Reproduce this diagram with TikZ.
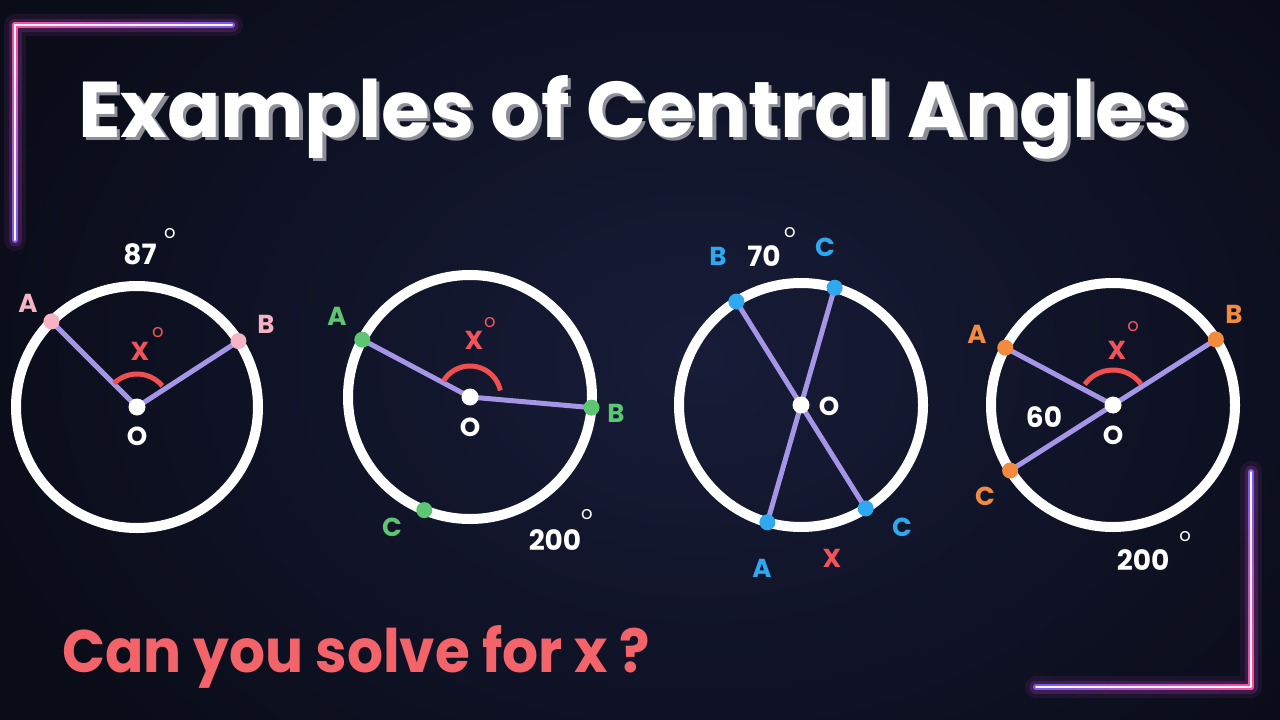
\documentclass[tikz,border=0pt]{standalone}
\usepackage{fontspec}
\setmainfont{Poppins}
\usetikzlibrary{calc}
\pgfdeclarelayer{bg}
\pgfdeclarelayer{segs}
\pgfsetlayers{bg,segs,main}
\definecolor{bgA}{HTML}{0A0C18}
\definecolor{bgB}{HTML}{171C38}
\definecolor{segcol}{HTML}{A595E6}
\definecolor{arcred}{HTML}{F04F52}
\definecolor{xred}{HTML}{F0545A}
\definecolor{pinkc}{HTML}{F5B3C4}
\definecolor{greenc}{HTML}{5CC672}
\definecolor{bluec}{HTML}{2FA8F0}
\definecolor{orangec}{HTML}{F28B3E}
\definecolor{coral}{HTML}{F2646A}
\definecolor{shadowg}{HTML}{8E8E98}
\definecolor{neonP}{HTML}{FF4F9C}
\definecolor{neonV}{HTML}{7B5CF0}
\definecolor{neonG}{HTML}{C047C8}
\newcommand\neonarm[2]{%
  \foreach \i in {1,...,24}{%
    \pgfmathsetmacro\ta{(\i-1)/24}%
    \pgfmathsetmacro\tb{\i/24}%
    \pgfmathsetmacro\pp{100-100*\i/24}%
    \colorlet{segc}{neonP!\pp!neonV}%
    \draw[segc, line width=6, line cap=round] ($(#1)!\ta!(#2)$) -- ($(#1)!\tb!(#2)$);
  }}
\newcommand\titletext{\resizebox{1110pt}{62pt}{\bfseries Examples of Central Angles}}
\tikzset{
  ring/.style={draw=white, line width=10},
  seg/.style={draw=segcol, line width=5, line cap=round},
  anglearc/.style={draw=arcred, line width=5},
  dot/.style={circle, fill=#1, minimum size=16, inner sep=0},
  cdot/.style={circle, fill=white, minimum size=17, inner sep=0},
  lbl/.style={text=#1, font=\fontsize{26}{26}\selectfont\bfseries, inner sep=0},
  num/.style={text=white, font=\fontsize{28}{28}\selectfont\bfseries, inner sep=0},
  deg/.style={text=#1, font=\fontsize{18}{18}\selectfont, inner sep=0},
  glowA/.style={line width=22, draw=neonG, opacity=0.10, line cap=round, line join=round},
  glowB/.style={line width=13, draw=neonG, opacity=0.20, line cap=round, line join=round},
  core/.style={line width=2, draw=white, opacity=0.95, line cap=round, line join=round}
}
\begin{document}
\begin{tikzpicture}[x=1pt,y=-1pt]
\useasboundingbox (0,0) rectangle (1280,720);
\begin{pgfonlayer}{bg}
\fill[bgA] (0,0) rectangle (1280,720);
\begin{scope}
\clip (0,0) rectangle (1280,720);
\shade[inner color=bgB, outer color=bgA] (700,360) ellipse[x radius=760, y radius=560];
\end{scope}
\end{pgfonlayer}

% neon corners
\coordinate (TLc) at (15,25);
\coordinate (TLh) at (232,25);
\coordinate (TLv) at (15,240);
\coordinate (BRc) at (1251,687);
\coordinate (BRv) at (1251,472);
\coordinate (BRh) at (1036,687);
\draw[glowA] (TLh) -- (TLc) -- (TLv);
\draw[glowB] (TLh) -- (TLc) -- (TLv);
\draw[glowA] (BRh) -- (BRc) -- (BRv);
\draw[glowB] (BRh) -- (BRc) -- (BRv);
\neonarm{TLc}{TLh}
\neonarm{TLc}{TLv}
\neonarm{BRc}{BRh}
\neonarm{BRc}{BRv}
\draw[core] (TLh) -- (TLc) -- (TLv);
\draw[core] (BRh) -- (BRc) -- (BRv);

% title with drop shadow (one node)
\node[anchor=base west, inner sep=0] (title) at (78,137)
  {\rlap{\hspace{3.5pt}\raisebox{-3.5pt}{\color{shadowg}\titletext}}\color{white}\titletext};

% bottom question
\node[anchor=base west, inner sep=0, text=coral] (question) at (62,672) {\resizebox{588pt}{47pt}{\bfseries Can you solve for x ?}};

% ---------- circle 1 ----------
\coordinate (O1) at (137,407);
\begin{pgfonlayer}{bg}\draw[ring] (O1) circle[radius=121];\end{pgfonlayer}
\node[dot=pinkc] (A1) at ($(O1)+(-135:121)$) {};
\node[dot=pinkc] (B1) at ($(O1)+(-33:121)$) {};
\node[cdot] (C1) at (O1) {};
\begin{pgfonlayer}{segs}
\draw[seg] (A1.center) -- (C1.center) -- (B1.center);
\draw[anglearc] ($(O1)+(-134:33)$) arc[start angle=-134, end angle=-40, radius=33];
\end{pgfonlayer}
\node[lbl=pinkc] (lA1) at (28,303) {A};
\node[lbl=pinkc] (lB1) at (266,324) {B};
\node[lbl=xred] (lx1) at (140,351) {X};
\node[deg=xred] (dx1) at (158,333) {o};
\node[lbl=white] (lO1) at (137,436) {O};
\node[num] (n1) at (140,254) {87};
\node[deg=white] (d1) at (170,234) {o};

% ---------- circle 2 ----------
\coordinate (O2) at (470,397);
\begin{pgfonlayer}{bg}\draw[ring] (O2) circle[radius=122];\end{pgfonlayer}
\node[dot=greenc] (A2) at ($(O2)+(-152:122)$) {};
\node[dot=greenc] (B2) at ($(O2)+(5:122)$) {};
\node[dot=greenc] (C2) at ($(O2)+(112:122)$) {};
\node[cdot] (Oc2) at (O2) {};
\begin{pgfonlayer}{segs}
\draw[seg] (A2.center) -- (Oc2.center) -- (B2.center);
\draw[anglearc] ($(O2)+(-149:31)$) arc[start angle=-149, end angle=-12, radius=31];
\end{pgfonlayer}
\node[lbl=greenc] (lA2) at (337,316) {A};
\node[lbl=greenc] (lB2) at (616,413) {B};
\node[lbl=greenc] (lC2) at (392,527) {C};
\node[lbl=xred] (lx2) at (474,340) {X};
\node[deg=xred] (dx2) at (490,323) {o};
\node[lbl=white] (lO2) at (470,427) {O};
\node[num] (n2) at (555,540) {200};
\node[deg=white] (d2) at (587,515) {o};

% ---------- circle 3 ----------
\coordinate (O3) at (801,405);
\begin{pgfonlayer}{bg}\draw[ring] (O3) circle[radius=122];\end{pgfonlayer}
\node[dot=bluec] (B3) at ($(O3)+(-122:122)$) {};
\node[dot=bluec] (C3b) at ($(O3)+(58:122)$) {};
\node[dot=bluec] (C3t) at ($(O3)+(-74:122)$) {};
\node[dot=bluec] (A3) at ($(O3)+(106:122)$) {};
\node[cdot] (Oc3) at (O3) {};
\begin{pgfonlayer}{segs}
\draw[seg] (B3.center) -- (C3b.center);
\draw[seg] (C3t.center) -- (A3.center);
\end{pgfonlayer}
\node[lbl=bluec] (lB3) at (718,256) {B};
\node[num] (n3) at (764,256) {70};
\node[deg=white] (d3) at (790,233) {o};
\node[lbl=bluec] (lC3t) at (825,247) {C};
\node[lbl=white] (lO3) at (829,406) {O};
\node[lbl=bluec] (lC3b) at (902,527) {C};
\node[lbl=bluec] (lA3) at (762,568) {A};
\node[lbl=xred] (lx3) at (832,558) {X};

% ---------- circle 4 ----------
\coordinate (O4) at (1113,405);
\begin{pgfonlayer}{bg}\draw[ring] (O4) circle[radius=122];\end{pgfonlayer}
\node[dot=orangec] (A4) at ($(O4)+(-152:122)$) {};
\node[dot=orangec] (B4) at ($(O4)+(-32.5:122)$) {};
\node[dot=orangec] (C4) at ($(O4)+(147.5:122)$) {};
\node[cdot] (Oc4) at (O4) {};
\begin{pgfonlayer}{segs}
\draw[seg] (A4.center) -- (Oc4.center);
\draw[seg] (B4.center) -- (C4.center);
\draw[anglearc] ($(O4)+(-144:35)$) arc[start angle=-144, end angle=-37, radius=35];
\end{pgfonlayer}
\node[lbl=orangec] (lA4) at (977,334) {A};
\node[lbl=orangec] (lB4) at (1234,314) {B};
\node[lbl=orangec] (lC4) at (985,496) {C};
\node[lbl=xred] (lx4) at (1117,350) {X};
\node[deg=xred] (dx4) at (1133,327) {o};
\node[num] (n60) at (1044,417) {60};
\node[lbl=white] (lO4) at (1113,435) {O};
\node[num] (n4) at (1143,560) {200};
\node[deg=white] (d4) at (1185,537) {o};
\end{tikzpicture}
\end{document}
